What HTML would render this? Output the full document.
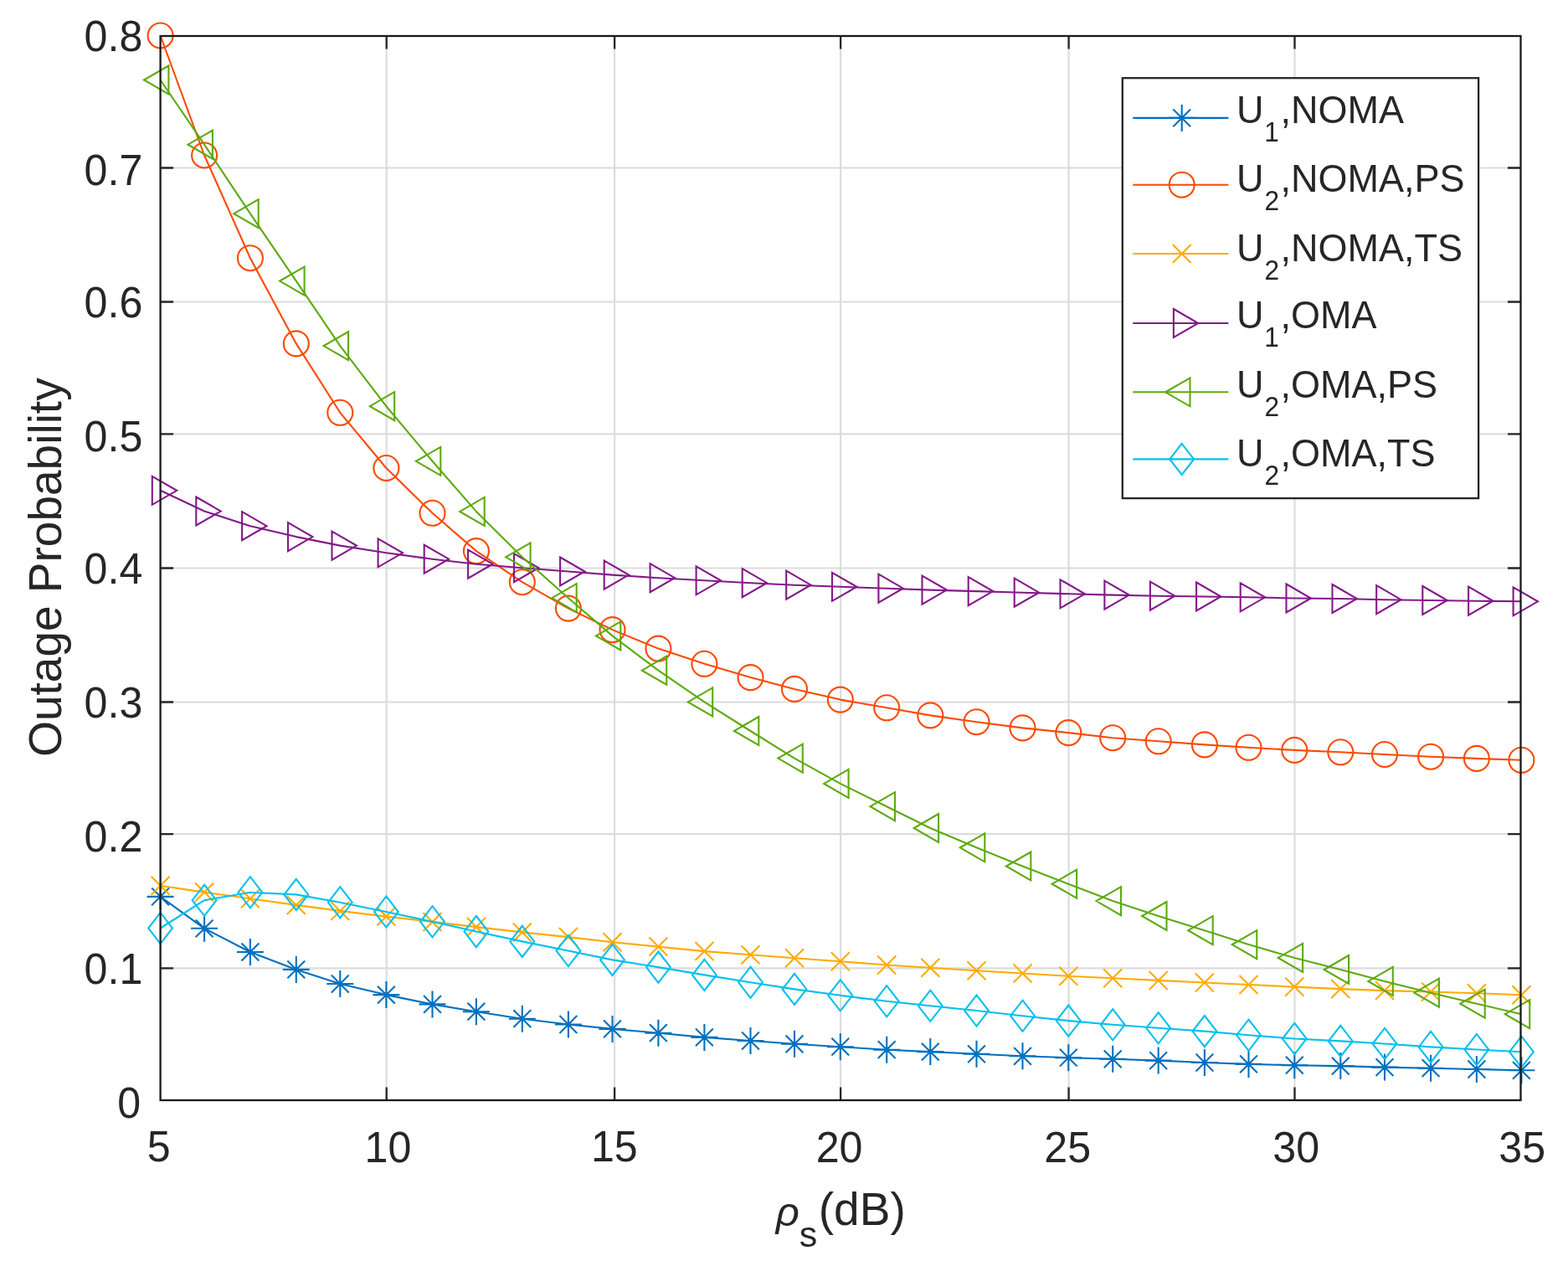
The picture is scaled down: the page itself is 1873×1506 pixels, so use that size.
<!DOCTYPE html><html><head><meta charset="utf-8"><title>Outage Probability</title><style>html,body{margin:0;padding:0;background:#fff;}svg{display:block;}text{font-family:"Liberation Sans",Arial,Helvetica,sans-serif;fill:#262626;}</style></head><body>
<svg width="1873" height="1506" viewBox="0 0 1873 1506">
<rect x="0" y="0" width="1873" height="1506" fill="#fff"/>
<path d="M461.7 43V1314M734.1 43V1314M1004.1 43V1314M1276.6 43V1314M1546.5 43V1314M191.6 1156.3H1816.5M191.6 996.2H1816.5M191.6 838.5H1816.5M191.6 678.5H1816.5M191.6 518.3H1816.5M191.6 360.5H1816.5M191.6 200.5H1816.5" stroke="#dcdcdc" stroke-width="2.2" fill="none"/>
<polyline points="191.6,1070.9 244.1,1108.8 298.9,1137 353.8,1157.9 406.3,1175 461.4,1188.1 516.5,1199.4 568.9,1208.2 623.8,1216.7 678.9,1223.5 731.5,1228.9 786.4,1233.7 841.4,1238.9 896.5,1243 949,1246.8 1003.8,1250.2 1059.2,1253.7 1111.3,1256.1 1166.5,1258.8 1221.5,1261.3 1276.3,1263.2 1329.2,1264.8 1383.7,1266.6 1438.9,1269 1491.5,1270.9 1546.3,1272.2 1601.3,1273.1 1654,1274.6 1709.1,1275.7 1763.9,1277 1817.4,1278.3" fill="none" stroke="#0070be" stroke-width="2.1" stroke-linejoin="round"/>
<path d="M175.6 1070.9H207.6M191.6 1054.9V1086.9M181.2 1060.5L202 1081.3M181.2 1081.3L202 1060.5M228.1 1108.8H260.1M244.1 1092.8V1124.8M233.7 1098.4L254.5 1119.2M233.7 1119.2L254.5 1098.4M282.9 1137H314.9M298.9 1121V1153M288.5 1126.6L309.3 1147.4M288.5 1147.4L309.3 1126.6M337.8 1157.9H369.8M353.8 1141.9V1173.9M343.4 1147.5L364.2 1168.3M343.4 1168.3L364.2 1147.5M390.3 1175H422.3M406.3 1159V1191M395.9 1164.6L416.7 1185.4M395.9 1185.4L416.7 1164.6M445.4 1188.1H477.4M461.4 1172.1V1204.1M451 1177.7L471.8 1198.5M451 1198.5L471.8 1177.7M500.5 1199.4H532.5M516.5 1183.4V1215.4M506.1 1189L526.9 1209.8M506.1 1209.8L526.9 1189M552.9 1208.2H584.9M568.9 1192.2V1224.2M558.5 1197.8L579.3 1218.6M558.5 1218.6L579.3 1197.8M607.8 1216.7H639.8M623.8 1200.7V1232.7M613.4 1206.3L634.2 1227.1M613.4 1227.1L634.2 1206.3M662.9 1223.5H694.9M678.9 1207.5V1239.5M668.5 1213.1L689.3 1233.9M668.5 1233.9L689.3 1213.1M715.5 1228.9H747.5M731.5 1212.9V1244.9M721.1 1218.5L741.9 1239.3M721.1 1239.3L741.9 1218.5M770.4 1233.7H802.4M786.4 1217.7V1249.7M776 1223.3L796.8 1244.1M776 1244.1L796.8 1223.3M825.4 1238.9H857.4M841.4 1222.9V1254.9M831 1228.5L851.8 1249.3M831 1249.3L851.8 1228.5M880.5 1243H912.5M896.5 1227V1259M886.1 1232.6L906.9 1253.4M886.1 1253.4L906.9 1232.6M933 1246.8H965M949 1230.8V1262.8M938.6 1236.4L959.4 1257.2M938.6 1257.2L959.4 1236.4M987.8 1250.2H1019.8M1003.8 1234.2V1266.2M993.4 1239.8L1014.2 1260.6M993.4 1260.6L1014.2 1239.8M1043.2 1253.7H1075.2M1059.2 1237.7V1269.7M1048.8 1243.3L1069.6 1264.1M1048.8 1264.1L1069.6 1243.3M1095.3 1256.1H1127.3M1111.3 1240.1V1272.1M1100.9 1245.7L1121.7 1266.5M1100.9 1266.5L1121.7 1245.7M1150.5 1258.8H1182.5M1166.5 1242.8V1274.8M1156.1 1248.4L1176.9 1269.2M1156.1 1269.2L1176.9 1248.4M1205.5 1261.3H1237.5M1221.5 1245.3V1277.3M1211.1 1250.9L1231.9 1271.7M1211.1 1271.7L1231.9 1250.9M1260.3 1263.2H1292.3M1276.3 1247.2V1279.2M1265.9 1252.8L1286.7 1273.6M1265.9 1273.6L1286.7 1252.8M1313.2 1264.8H1345.2M1329.2 1248.8V1280.8M1318.8 1254.4L1339.6 1275.2M1318.8 1275.2L1339.6 1254.4M1367.7 1266.6H1399.7M1383.7 1250.6V1282.6M1373.3 1256.2L1394.1 1277M1373.3 1277L1394.1 1256.2M1422.9 1269H1454.9M1438.9 1253V1285M1428.5 1258.6L1449.3 1279.4M1428.5 1279.4L1449.3 1258.6M1475.5 1270.9H1507.5M1491.5 1254.9V1286.9M1481.1 1260.5L1501.9 1281.3M1481.1 1281.3L1501.9 1260.5M1530.3 1272.2H1562.3M1546.3 1256.2V1288.2M1535.9 1261.8L1556.7 1282.6M1535.9 1282.6L1556.7 1261.8M1585.3 1273.1H1617.3M1601.3 1257.1V1289.1M1590.9 1262.7L1611.7 1283.5M1590.9 1283.5L1611.7 1262.7M1638 1274.6H1670M1654 1258.6V1290.6M1643.6 1264.2L1664.4 1285M1643.6 1285L1664.4 1264.2M1693.1 1275.7H1725.1M1709.1 1259.7V1291.7M1698.7 1265.3L1719.5 1286.1M1698.7 1286.1L1719.5 1265.3M1747.9 1277H1779.9M1763.9 1261V1293M1753.5 1266.6L1774.3 1287.4M1753.5 1287.4L1774.3 1266.6M1801.4 1278.3H1833.4M1817.4 1262.3V1294.3M1807 1267.9L1827.8 1288.7M1807 1288.7L1827.8 1267.9" fill="none" stroke="#0070be" stroke-width="2.1" stroke-linejoin="miter"/>
<polyline points="191.6,42.5 244.1,185.5 298.9,308.2 353.8,410.4 406.3,492.8 461.4,559 516.5,612.8 568.9,658.1 623.8,695.2 678.9,726.6 731.5,752.1 786.4,774.6 841.4,792.8 896.5,809.1 949,822.9 1003.8,835.6 1059.2,845.3 1111.3,854.4 1166.5,862.2 1221.5,869.4 1276.3,875.1 1329.2,881.2 1383.7,885.3 1438.9,889.4 1491.5,892.8 1546.3,895.9 1601.3,898.3 1654,901 1709.1,903.7 1763.9,905.9 1817.4,907.8" fill="none" stroke="#fc4a02" stroke-width="2.1" stroke-linejoin="round"/>
<g fill="none" stroke="#fc4a02" stroke-width="2.1"><circle cx="191.6" cy="42.5" r="15"/><circle cx="244.1" cy="185.5" r="15"/><circle cx="298.9" cy="308.2" r="15"/><circle cx="353.8" cy="410.4" r="15"/><circle cx="406.3" cy="492.8" r="15"/><circle cx="461.4" cy="559" r="15"/><circle cx="516.5" cy="612.8" r="15"/><circle cx="568.9" cy="658.1" r="15"/><circle cx="623.8" cy="695.2" r="15"/><circle cx="678.9" cy="726.6" r="15"/><circle cx="731.5" cy="752.1" r="15"/><circle cx="786.4" cy="774.6" r="15"/><circle cx="841.4" cy="792.8" r="15"/><circle cx="896.5" cy="809.1" r="15"/><circle cx="949" cy="822.9" r="15"/><circle cx="1003.8" cy="835.6" r="15"/><circle cx="1059.2" cy="845.3" r="15"/><circle cx="1111.3" cy="854.4" r="15"/><circle cx="1166.5" cy="862.2" r="15"/><circle cx="1221.5" cy="869.4" r="15"/><circle cx="1276.3" cy="875.1" r="15"/><circle cx="1329.2" cy="881.2" r="15"/><circle cx="1383.7" cy="885.3" r="15"/><circle cx="1438.9" cy="889.4" r="15"/><circle cx="1491.5" cy="892.8" r="15"/><circle cx="1546.3" cy="895.9" r="15"/><circle cx="1601.3" cy="898.3" r="15"/><circle cx="1654" cy="901" r="15"/><circle cx="1709.1" cy="903.7" r="15"/><circle cx="1763.9" cy="905.9" r="15"/><circle cx="1817.4" cy="907.8" r="15"/></g>
<polyline points="191.6,1057.7 244.1,1065.6 298.9,1073.2 353.8,1080.9 406.3,1087.9 461.4,1094.6 516.5,1100.9 568.9,1107.1 623.8,1113.4 678.9,1119.1 731.5,1125.2 786.4,1130.6 841.4,1136.1 896.5,1140.2 949,1144.2 1003.8,1148.2 1059.2,1152.5 1111.3,1155.8 1166.5,1159.3 1221.5,1162.5 1276.3,1165.8 1329.2,1168.3 1383.7,1170.9 1438.9,1173.5 1491.5,1176 1546.3,1178.6 1601.3,1181.1 1654,1183.1 1709.1,1184.5 1763.9,1186.2 1817.4,1188.2" fill="none" stroke="#ffab00" stroke-width="2.1" stroke-linejoin="round"/>
<path d="M180.6 1046.7L202.6 1068.7M180.6 1068.7L202.6 1046.7M233.1 1054.6L255.1 1076.6M233.1 1076.6L255.1 1054.6M287.9 1062.2L309.9 1084.2M287.9 1084.2L309.9 1062.2M342.8 1069.9L364.8 1091.9M342.8 1091.9L364.8 1069.9M395.3 1076.9L417.3 1098.9M395.3 1098.9L417.3 1076.9M450.4 1083.6L472.4 1105.6M450.4 1105.6L472.4 1083.6M505.5 1089.9L527.5 1111.9M505.5 1111.9L527.5 1089.9M557.9 1096.1L579.9 1118.1M557.9 1118.1L579.9 1096.1M612.8 1102.4L634.8 1124.4M612.8 1124.4L634.8 1102.4M667.9 1108.1L689.9 1130.1M667.9 1130.1L689.9 1108.1M720.5 1114.2L742.5 1136.2M720.5 1136.2L742.5 1114.2M775.4 1119.6L797.4 1141.6M775.4 1141.6L797.4 1119.6M830.4 1125.1L852.4 1147.1M830.4 1147.1L852.4 1125.1M885.5 1129.2L907.5 1151.2M885.5 1151.2L907.5 1129.2M938 1133.2L960 1155.2M938 1155.2L960 1133.2M992.8 1137.2L1014.8 1159.2M992.8 1159.2L1014.8 1137.2M1048.2 1141.5L1070.2 1163.5M1048.2 1163.5L1070.2 1141.5M1100.3 1144.8L1122.3 1166.8M1100.3 1166.8L1122.3 1144.8M1155.5 1148.3L1177.5 1170.3M1155.5 1170.3L1177.5 1148.3M1210.5 1151.5L1232.5 1173.5M1210.5 1173.5L1232.5 1151.5M1265.3 1154.8L1287.3 1176.8M1265.3 1176.8L1287.3 1154.8M1318.2 1157.3L1340.2 1179.3M1318.2 1179.3L1340.2 1157.3M1372.7 1159.9L1394.7 1181.9M1372.7 1181.9L1394.7 1159.9M1427.9 1162.5L1449.9 1184.5M1427.9 1184.5L1449.9 1162.5M1480.5 1165L1502.5 1187M1480.5 1187L1502.5 1165M1535.3 1167.6L1557.3 1189.6M1535.3 1189.6L1557.3 1167.6M1590.3 1170.1L1612.3 1192.1M1590.3 1192.1L1612.3 1170.1M1643 1172.1L1665 1194.1M1643 1194.1L1665 1172.1M1698.1 1173.5L1720.1 1195.5M1698.1 1195.5L1720.1 1173.5M1752.9 1175.2L1774.9 1197.2M1752.9 1197.2L1774.9 1175.2M1806.4 1177.2L1828.4 1199.2M1806.4 1199.2L1828.4 1177.2" fill="none" stroke="#ffab00" stroke-width="2.1" stroke-linejoin="miter"/>
<polyline points="191.6,585.8 244.1,610.5 298.9,628.2 353.8,641.1 406.3,651.6 461.4,660.3 516.5,667.7 568.9,673.7 623.8,678.2 678.9,682.5 731.5,686.6 786.4,690.2 841.4,693.3 896.5,696.2 949,698.7 1003.8,700.8 1059.2,702.7 1111.3,704.6 1166.5,706.1 1221.5,707.7 1276.3,709.3 1329.2,710.6 1383.7,711.7 1438.9,712.5 1491.5,713.3 1546.3,714.5 1601.3,715 1654,716.2 1709.1,717 1763.9,717.7 1817.4,718.3" fill="none" stroke="#84188a" stroke-width="2.1" stroke-linejoin="round"/>
<path d="M181.8 568.8L211.2 585.8L181.8 602.8ZM234.3 593.5L263.7 610.5L234.3 627.5ZM289.1 611.2L318.5 628.2L289.1 645.2ZM344 624.1L373.4 641.1L344 658.1ZM396.5 634.6L425.9 651.6L396.5 668.6ZM451.6 643.3L481 660.3L451.6 677.3ZM506.7 650.7L536.1 667.7L506.7 684.7ZM559.1 656.7L588.5 673.7L559.1 690.7ZM614 661.2L643.4 678.2L614 695.2ZM669.1 665.5L698.5 682.5L669.1 699.5ZM721.7 669.6L751.1 686.6L721.7 703.6ZM776.6 673.2L806 690.2L776.6 707.2ZM831.6 676.3L861 693.3L831.6 710.3ZM886.7 679.2L916.1 696.2L886.7 713.2ZM939.2 681.7L968.6 698.7L939.2 715.7ZM994 683.8L1023.4 700.8L994 717.8ZM1049.4 685.7L1078.8 702.7L1049.4 719.7ZM1101.5 687.6L1130.9 704.6L1101.5 721.6ZM1156.7 689.1L1186.1 706.1L1156.7 723.1ZM1211.7 690.7L1241.1 707.7L1211.7 724.7ZM1266.5 692.3L1295.9 709.3L1266.5 726.3ZM1319.4 693.6L1348.8 710.6L1319.4 727.6ZM1373.9 694.7L1403.3 711.7L1373.9 728.7ZM1429.1 695.5L1458.5 712.5L1429.1 729.5ZM1481.7 696.3L1511.1 713.3L1481.7 730.3ZM1536.5 697.5L1565.9 714.5L1536.5 731.5ZM1591.5 698L1620.9 715L1591.5 732ZM1644.2 699.2L1673.6 716.2L1644.2 733.2ZM1699.3 700L1728.7 717L1699.3 734ZM1754.1 700.7L1783.5 717.7L1754.1 734.7ZM1807.6 701.3L1837 718.3L1807.6 735.3Z" fill="none" stroke="#84188a" stroke-width="2.1" stroke-linejoin="miter"/>
<polyline points="191.6,95.5 244.1,172.7 298.9,255.2 353.8,335.6 406.3,413.1 461.4,485.2 516.5,550.8 568.9,610.9 623.8,665.3 678.9,714.2 731.5,759.4 786.4,800.7 841.4,838.4 896.5,873 949,905.6 1003.8,935.9 1059.2,963.2 1111.3,989 1166.5,1012.3 1221.5,1034.5 1276.3,1055.7 1329.2,1076.1 1383.7,1094 1438.9,1111.2 1491.5,1128.1 1546.3,1143.9 1601.3,1158 1654,1171.9 1709.1,1185.7 1763.9,1198.7 1817.4,1211.2" fill="none" stroke="#5daa0e" stroke-width="2.1" stroke-linejoin="round"/>
<path d="M201.4 78.5L172 95.5L201.4 112.5ZM253.9 155.7L224.5 172.7L253.9 189.7ZM308.7 238.2L279.3 255.2L308.7 272.2ZM363.6 318.6L334.2 335.6L363.6 352.6ZM416.1 396.1L386.7 413.1L416.1 430.1ZM471.2 468.2L441.8 485.2L471.2 502.2ZM526.3 533.8L496.9 550.8L526.3 567.8ZM578.7 593.9L549.3 610.9L578.7 627.9ZM633.6 648.3L604.2 665.3L633.6 682.3ZM688.7 697.2L659.3 714.2L688.7 731.2ZM741.3 742.4L711.9 759.4L741.3 776.4ZM796.2 783.7L766.8 800.7L796.2 817.7ZM851.2 821.4L821.8 838.4L851.2 855.4ZM906.3 856L876.9 873L906.3 890ZM958.8 888.6L929.4 905.6L958.8 922.6ZM1013.6 918.9L984.2 935.9L1013.6 952.9ZM1069 946.2L1039.6 963.2L1069 980.2ZM1121.1 972L1091.7 989L1121.1 1006ZM1176.3 995.3L1146.9 1012.3L1176.3 1029.3ZM1231.3 1017.5L1201.9 1034.5L1231.3 1051.5ZM1286.1 1038.7L1256.7 1055.7L1286.1 1072.7ZM1339 1059.1L1309.6 1076.1L1339 1093.1ZM1393.5 1077L1364.1 1094L1393.5 1111ZM1448.7 1094.2L1419.3 1111.2L1448.7 1128.2ZM1501.3 1111.1L1471.9 1128.1L1501.3 1145.1ZM1556.1 1126.9L1526.7 1143.9L1556.1 1160.9ZM1611.1 1141L1581.7 1158L1611.1 1175ZM1663.8 1154.9L1634.4 1171.9L1663.8 1188.9ZM1718.9 1168.7L1689.5 1185.7L1718.9 1202.7ZM1773.7 1181.7L1744.3 1198.7L1773.7 1215.7ZM1827.2 1194.2L1797.8 1211.2L1827.2 1228.2Z" fill="none" stroke="#5daa0e" stroke-width="2.1" stroke-linejoin="miter"/>
<polyline points="191.6,1108.5 244.1,1075.2 298.9,1065.7 353.8,1068.4 406.3,1077.8 461.4,1089 516.5,1100.8 568.9,1112.6 623.8,1124.4 678.9,1135.5 731.5,1146.4 786.4,1155.1 841.4,1164.4 896.5,1173.2 949,1181.4 1003.8,1188.8 1059.2,1195.8 1111.3,1201.3 1166.5,1207 1221.5,1213.2 1276.3,1219.1 1329.2,1223.8 1383.7,1227.8 1438.9,1231.6 1491.5,1236.2 1546.3,1240.5 1601.3,1243.4 1654,1246.5 1709.1,1250.4 1763.9,1253.5 1817.4,1256.2" fill="none" stroke="#00c0ee" stroke-width="2.1" stroke-linejoin="round"/>
<path d="M191.6 1089.9L206 1108.5L191.6 1127.1L177.2 1108.5ZM244.1 1056.6L258.5 1075.2L244.1 1093.8L229.7 1075.2ZM298.9 1047.1L313.3 1065.7L298.9 1084.3L284.5 1065.7ZM353.8 1049.8L368.2 1068.4L353.8 1087L339.4 1068.4ZM406.3 1059.2L420.7 1077.8L406.3 1096.4L391.9 1077.8ZM461.4 1070.4L475.8 1089L461.4 1107.6L447 1089ZM516.5 1082.2L530.9 1100.8L516.5 1119.4L502.1 1100.8ZM568.9 1094L583.3 1112.6L568.9 1131.2L554.5 1112.6ZM623.8 1105.8L638.2 1124.4L623.8 1143L609.4 1124.4ZM678.9 1116.9L693.3 1135.5L678.9 1154.1L664.5 1135.5ZM731.5 1127.8L745.9 1146.4L731.5 1165L717.1 1146.4ZM786.4 1136.5L800.8 1155.1L786.4 1173.7L772 1155.1ZM841.4 1145.8L855.8 1164.4L841.4 1183L827 1164.4ZM896.5 1154.6L910.9 1173.2L896.5 1191.8L882.1 1173.2ZM949 1162.8L963.4 1181.4L949 1200L934.6 1181.4ZM1003.8 1170.2L1018.2 1188.8L1003.8 1207.4L989.4 1188.8ZM1059.2 1177.2L1073.6 1195.8L1059.2 1214.4L1044.8 1195.8ZM1111.3 1182.7L1125.7 1201.3L1111.3 1219.9L1096.9 1201.3ZM1166.5 1188.4L1180.9 1207L1166.5 1225.6L1152.1 1207ZM1221.5 1194.6L1235.9 1213.2L1221.5 1231.8L1207.1 1213.2ZM1276.3 1200.5L1290.7 1219.1L1276.3 1237.7L1261.9 1219.1ZM1329.2 1205.2L1343.6 1223.8L1329.2 1242.4L1314.8 1223.8ZM1383.7 1209.2L1398.1 1227.8L1383.7 1246.4L1369.3 1227.8ZM1438.9 1213L1453.3 1231.6L1438.9 1250.2L1424.5 1231.6ZM1491.5 1217.6L1505.9 1236.2L1491.5 1254.8L1477.1 1236.2ZM1546.3 1221.9L1560.7 1240.5L1546.3 1259.1L1531.9 1240.5ZM1601.3 1224.8L1615.7 1243.4L1601.3 1262L1586.9 1243.4ZM1654 1227.9L1668.4 1246.5L1654 1265.1L1639.6 1246.5ZM1709.1 1231.8L1723.5 1250.4L1709.1 1269L1694.7 1250.4ZM1763.9 1234.9L1778.3 1253.5L1763.9 1272.1L1749.5 1253.5ZM1817.4 1237.6L1831.8 1256.2L1817.4 1274.8L1803 1256.2Z" fill="none" stroke="#00c0ee" stroke-width="2.1" stroke-linejoin="miter"/>
<path d="M461.7 1314V1298.5M461.7 43V58.5M734.1 1314V1298.5M734.1 43V58.5M1004.1 1314V1298.5M1004.1 43V58.5M1276.6 1314V1298.5M1276.6 43V58.5M1546.5 1314V1298.5M1546.5 43V58.5M191.6 1156.3H207.1M1816.5 1156.3H1801M191.6 996.2H207.1M1816.5 996.2H1801M191.6 838.5H207.1M1816.5 838.5H1801M191.6 678.5H207.1M1816.5 678.5H1801M191.6 518.3H207.1M1816.5 518.3H1801M191.6 360.5H207.1M1816.5 360.5H1801M191.6 200.5H207.1M1816.5 200.5H1801" stroke="#262626" stroke-width="2.3" fill="none"/>
<rect x="191.6" y="43" width="1624.9" height="1271" fill="none" stroke="#1a1a1a" stroke-width="2.3"/>
<text transform="translate(140.2 1335.2) scale(0.97 1)" font-size="51.7">0</text>
<text transform="translate(100.6 1175) scale(0.97 1)" font-size="51.7">0.1</text>
<text transform="translate(100.6 1017) scale(0.97 1)" font-size="51.7">0.2</text>
<text transform="translate(100.6 856.8) scale(0.97 1)" font-size="51.7">0.3</text>
<text transform="translate(100.6 697) scale(0.97 1)" font-size="51.7">0.4</text>
<text transform="translate(100.6 539.1) scale(0.97 1)" font-size="51.7">0.5</text>
<text transform="translate(100.6 378.9) scale(0.97 1)" font-size="51.7">0.6</text>
<text transform="translate(100.6 221.4) scale(0.97 1)" font-size="51.7">0.7</text>
<text transform="translate(100.6 61) scale(0.97 1)" font-size="51.7">0.8</text>
<text transform="translate(175.8 1387.3) scale(0.97 1)" font-size="51.7">5</text>
<text transform="translate(435.6 1387.6) scale(0.97 1)" font-size="51.7">10</text>
<text transform="translate(705.9 1387.3) scale(0.97 1)" font-size="51.7">15</text>
<text transform="translate(974.7 1387.6) scale(0.97 1)" font-size="51.7">20</text>
<text transform="translate(1247.3 1387.6) scale(0.97 1)" font-size="51.7">25</text>
<text transform="translate(1520.3 1387.6) scale(0.97 1)" font-size="51.7">30</text>
<text transform="translate(1790.3 1387.6) scale(0.97 1)" font-size="51.7">35</text>
<text transform="translate(72.8 677.6) rotate(-90)" font-size="55" text-anchor="middle">Outage Probability</text>
<text font-size="55"><tspan x="926.8" y="1464.3" font-size="49" font-style="italic">ρ</tspan><tspan x="954.8" y="1489.3" font-size="43">s</tspan><tspan x="977.8" y="1462.8">(dB)</tspan></text>
<rect x="1340.8" y="93.2" width="425.3" height="501.9" fill="#fff" stroke="#262626" stroke-width="2.3"/>
<path d="M1353.3 140.9H1467.4" stroke="#0070be" stroke-width="2.1"/>
<path d="M1395.7 140.9H1427.7M1411.7 124.9V156.9M1401.3 130.5L1422.1 151.3M1401.3 151.3L1422.1 130.5" fill="none" stroke="#0070be" stroke-width="2.1"/>
<text transform="translate(1476.9 146.9) scale(0.958 1)" font-size="47">U<tspan x="34.9" y="22.4" font-size="33">1</tspan><tspan x="54.9" y="0">,NOMA</tspan></text>
<path d="M1353.3 220.7H1467.4" stroke="#fc4a02" stroke-width="2.1"/>
<circle cx="1411.7" cy="220.7" r="15" fill="none" stroke="#fc4a02" stroke-width="2.1"/>
<text transform="translate(1476.9 229) scale(0.958 1)" font-size="47">U<tspan x="35.2" y="22.4" font-size="33">2</tspan><tspan x="54.9" y="0">,NOMA,PS</tspan></text>
<path d="M1353.3 303H1467.4" stroke="#ffab00" stroke-width="2.1"/>
<path d="M1400.7 292L1422.7 314M1400.7 314L1422.7 292" fill="none" stroke="#ffab00" stroke-width="2.1"/>
<text transform="translate(1476.9 311.7) scale(0.958 1)" font-size="47">U<tspan x="35.2" y="22.4" font-size="33">2</tspan><tspan x="54.9" y="0">,NOMA,TS</tspan></text>
<path d="M1353.3 386H1467.4" stroke="#84188a" stroke-width="2.1"/>
<path d="M1401.9 369L1431.3 386L1401.9 403Z" fill="none" stroke="#84188a" stroke-width="2.1"/>
<text transform="translate(1476.9 392) scale(0.958 1)" font-size="47">U<tspan x="34.9" y="22.4" font-size="33">1</tspan><tspan x="54.9" y="0">,OMA</tspan></text>
<path d="M1353.3 468.3H1467.4" stroke="#5daa0e" stroke-width="2.1"/>
<path d="M1421.5 451.3L1392.1 468.3L1421.5 485.3Z" fill="none" stroke="#5daa0e" stroke-width="2.1"/>
<text transform="translate(1476.9 474.5) scale(0.958 1)" font-size="47">U<tspan x="35.2" y="22.4" font-size="33">2</tspan><tspan x="54.9" y="0">,OMA,PS</tspan></text>
<path d="M1353.3 548.4H1467.4" stroke="#00c0ee" stroke-width="2.1"/>
<path d="M1411.7 529.8L1426.1 548.4L1411.7 567L1397.3 548.4Z" fill="none" stroke="#00c0ee" stroke-width="2.1"/>
<text transform="translate(1476.9 556.7) scale(0.958 1)" font-size="47">U<tspan x="35.2" y="22.4" font-size="33">2</tspan><tspan x="54.9" y="0">,OMA,TS</tspan></text>
</svg></body></html>
